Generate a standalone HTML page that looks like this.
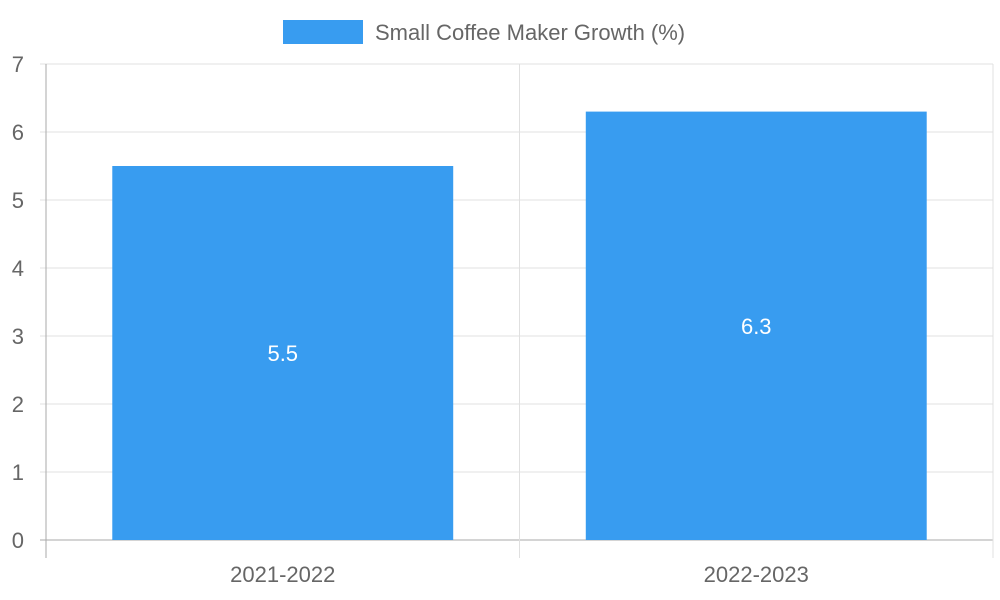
<!DOCTYPE html>
<html><head><meta charset="utf-8"><style>
html,body{margin:0;padding:0;background:#fff;}
svg{display:block;font-family:"Liberation Sans",sans-serif;}
</style></head><body>
<svg id="chart" width="1000" height="600">
<g>
<rect x="283" y="20" width="80" height="24" fill="#389cf0"/>
<text x="375" y="40" font-size="22" fill="#666">Small Coffee Maker Growth (%)</text>
</g>
<g id="grid"></g>
<g id="bars"></g>
<g id="labels"></g>
</svg>
<script>
const categories = ["2021-2022", "2022-2023"];
const values = [5.5, 6.3];
const yTicks = [0, 1, 2, 3, 4, 5, 6, 7];
const NS = "http://www.w3.org/2000/svg";
const L = 46, R = 993, T = 64, B = 540, yMax = 7;
const y = v => B - (v / yMax) * (B - T);
const bw = (R - L) / categories.length;
const x = i => L + bw * i;
function mk(tag, attrs, parent, txt) {
  const e = document.createElementNS(NS, tag);
  for (const k in attrs) e.setAttribute(k, attrs[k]);
  if (txt !== undefined) e.textContent = txt;
  parent.appendChild(e);
  return e;
}
const grid = document.getElementById("grid");
const bars = document.getElementById("bars");
const labels = document.getElementById("labels");
yTicks.forEach(t => {
  const ln = mk("line", {x1: 40, x2: R, y1: y(t), y2: y(t), stroke: t === 0 ? "#aaa" : "#e0e0e0", "stroke-width": 1}, grid);
  
  
  const tx = mk("text", {x: 24, y: y(t) + 8, "font-size": 22, fill: "#666", "text-anchor": "end"}, labels, String(t));
  
  
});
for (let i = 0; i <= categories.length; i++) {
  const ln = mk("line", {x1: x(i), x2: x(i), y1: T, y2: B + 18, stroke: i === 0 ? "#aaa" : "#e0e0e0", "stroke-width": 1}, grid);
  
  
}
categories.forEach((c, i) => {
  const w = bw * 0.72;
  const cx = x(i) + bw / 2;
  const r = mk("rect", {x: cx - w / 2, y: y(values[i]), width: w, height: B - y(values[i]), fill: "#389cf0"}, bars);
  
  
  const v = mk("text", {x: cx, y: (y(values[i]) + B) / 2 + 8, "font-size": 22, fill: "#fff", "text-anchor": "middle"}, bars, String(values[i]));
  
  
  const tx = mk("text", {x: cx, y: B + 42, "font-size": 22, fill: "#666", "text-anchor": "middle"}, labels, c);
  
  
});
</script>
</body></html>
